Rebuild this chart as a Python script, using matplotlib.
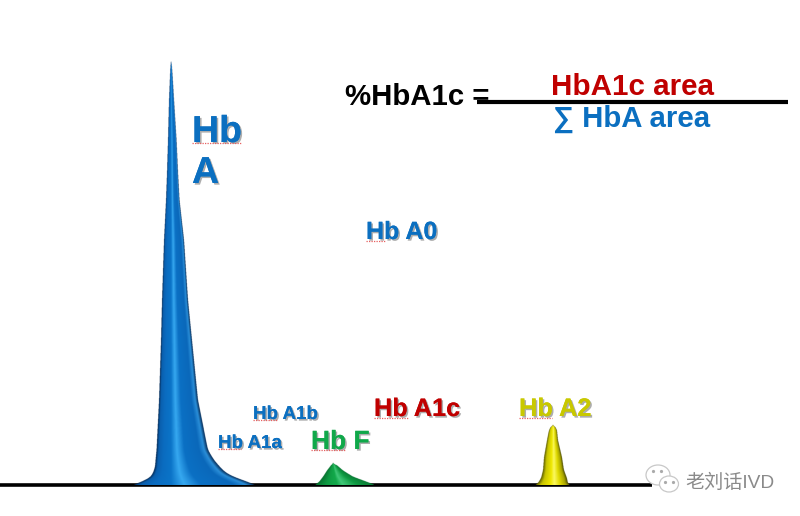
import numpy as np
import matplotlib
matplotlib.use("Agg")
import matplotlib.pyplot as plt
import matplotlib.patheffects as pe
from matplotlib.colors import LinearSegmentedColormap
from matplotlib.patches import Ellipse

plt.rcParams['font.family'] = ['Liberation Sans', 'Noto Sans CJK SC', 'DejaVu Sans']

# peak outlines: height above baseline, left and right retention positions
hba_h = [0, 1, 4, 7, 12, 18, 25, 35, 55, 85, 115, 145, 185, 245, 285, 312, 345, 385, 410, 420, 425]
hba_l = [130, 137, 143, 150, 153, 155, 155.5, 156.5, 157.5, 159, 160, 161, 162, 164, 166, 167, 168, 169, 170, 170.5, 171]
hba_r = [258, 252, 246, 236, 226, 220, 214, 208, 204, 198, 195, 192, 188, 184, 179.5, 178, 176.5, 174, 172.5, 171.8, 171]
hbf_h = [0, 3, 8, 14, 19, 22]
hbf_l = [315, 319, 323, 327, 331, 333]
hbf_r = [375, 367, 353, 343, 337, 333]
hba2_h = [0, 2, 7, 15, 28, 45, 55, 59, 61]
hba2_l = [535, 538, 541, 543, 544, 547, 549, 551, 553]
hba2_r = [570, 568, 567, 564, 562, 558, 557, 555, 553]

labels = ["Hb\nA", "Hb A0", "Hb A1a", "Hb A1b", "Hb F", "Hb A1c", "Hb A2"]

BLUE = "#0b6fc0"
RED = "#c00000"
GREEN = "#10a84a"
YEL = "#c8c800"

fig = plt.figure(figsize=(8, 5.16), dpi=100)
ax = fig.add_axes([0, 0, 1, 1])
ax.set_xlim(0, 800)
ax.set_ylim(-31, 485)
ax.axis("off")


def Y(py):
    return 485 - py


ax.plot([0, 652], [0, 0], color="black", lw=2.6, solid_capstyle="butt", zorder=2)


def smooth(v, sigma):
    k = np.exp(-0.5 * (np.arange(-3 * sigma, 3 * sigma + 1) / sigma) ** 2)
    k /= k.sum()
    n = len(k) // 2
    return np.convolve(np.pad(v, n, mode="edge"), k, mode="valid")


def peak(h, l, r, stops, sigma=9):
    h, l, r = map(np.array, (h, l, r))
    apex = l[-1]
    cmap = LinearSegmentedColormap.from_list("p", stops)
    S = 4
    x0, x1 = l[0] - 2, r[0] + 2
    xs = np.linspace(x0, x1, int((x1 - x0) * S))
    hs = np.linspace(0, h[-1], int(h[-1] * S))
    L = np.minimum(smooth(np.interp(hs, h, l), sigma), apex)
    R = np.maximum(smooth(np.interp(hs, h, r), sigma), apex)
    # force closure at the apex
    frac = np.clip((h[-1] - hs) / 3.0, 0, 1)
    L = apex + (L - apex) * frac
    R = apex + (R - apex) * frac
    X, _ = np.meshgrid(xs, hs)
    dl = np.maximum(apex - L, 1e-6)[:, None]
    dr = np.maximum(R - apex, 1e-6)[:, None]
    t = np.where(X < apex, (X - apex) / dl, (X - apex) / dr)
    rgba = cmap(np.clip((t + 1) / 2, 0, 1))
    rgba[..., 3] = (np.abs(t) <= 1).astype(float)
    ax.imshow(rgba, origin="lower", extent=(x0, x1, 0, h[-1]), aspect="auto",
              interpolation="antialiased", zorder=3)


peak(hba_h, hba_l, hba_r,
     [(0.0, "#042a55"), (0.08, "#0a5fae"), (0.25, "#0a6cc0"), (0.5, "#0b74c8"),
      (0.58, "#36a8f0"), (0.68, "#0b70c4"), (0.88, "#0a68ba"), (0.95, "#2a8ed8"), (1.0, "#052c58")])
peak(hbf_h, hbf_l, hbf_r,
     [(0.0, "#07702f"), (0.3, "#0e9a42"), (0.55, "#12a84a"), (0.62, "#40c878"), (0.8, "#0e9a42"), (1.0, "#0a7a35")], sigma=3)
peak(hba2_h, hba2_l, hba2_r,
     [(0.0, "#5a5a00"), (0.15, "#c8c400"), (0.42, "#efe800"), (0.55, "#fbf860"), (0.72, "#e0da00"), (0.9, "#a8a400"), (1.0, "#4a4a00")], sigma=4)
ax.set_xlim(0, 800)
ax.set_ylim(-31, 485)


def txt(px, py, s, color, size, sq=None, shadow=True):
    t = ax.text(px, Y(py), s, color=color, fontsize=size, fontweight="bold",
                ha="left", va="baseline", zorder=6)
    if shadow:
        t.set_path_effects([pe.withSimplePatchShadow(offset=(1.2, -1.2), shadow_rgbFace="#777777", alpha=0.6), pe.Normal()])
    if sq:
        ax.plot([sq[0], sq[1]], [Y(sq[2]), Y(sq[2])], color="#e86060", lw=0.9, ls=(0, (1, 1)), zorder=6)


txt(192, 142, "Hb", BLUE, 27, sq=(192, 241, 143))
txt(192, 183, "A", BLUE, 27)
txt(366, 239, labels[1], BLUE, 18, sq=(366, 386, 241))
txt(218, 448, labels[2], BLUE, 13.5, sq=(218, 241, 449))
txt(253, 419, labels[3], BLUE, 13.5, sq=(253, 277, 420))
txt(311, 449, labels[4], GREEN, 19, sq=(311, 345, 450))
txt(374, 416, labels[5], RED, 18.2, sq=(374, 408, 418))
txt(519, 416, labels[6], YEL, 18.3, sq=(519, 552, 418))

# formula
txt(345, 105, "%HbA1c =", "black", 21.2, shadow=False)
ax.plot([477, 788], [Y(101.5), Y(101.5)], color="black", lw=3, solid_capstyle="butt", zorder=6)
txt(551, 95, "HbA1c area", RED, 21.3, shadow=False)
txt(553, 127, "∑ HbA area", BLUE, 21.2, shadow=False)

# watermark
for (cx, cy, w, hh) in [(658, 475, 24, 20), (669, 484, 19, 16)]:
    ax.add_patch(Ellipse((cx, Y(cy)), w, hh, fc="white", ec="#c8c8c8", lw=0.9, zorder=7))
for (cx, cy) in [(653, 471), (661, 471), (665, 482), (673, 482)]:
    ax.plot([cx], [Y(cy)], "o", ms=1.3, color="#aaaaaa", zorder=8)
ax.text(685, Y(488), "老刘话IVD", color="#8a8a8a", fontsize=13.8, ha="left", va="baseline", zorder=8)

fig.savefig("out.png", dpi=100)
